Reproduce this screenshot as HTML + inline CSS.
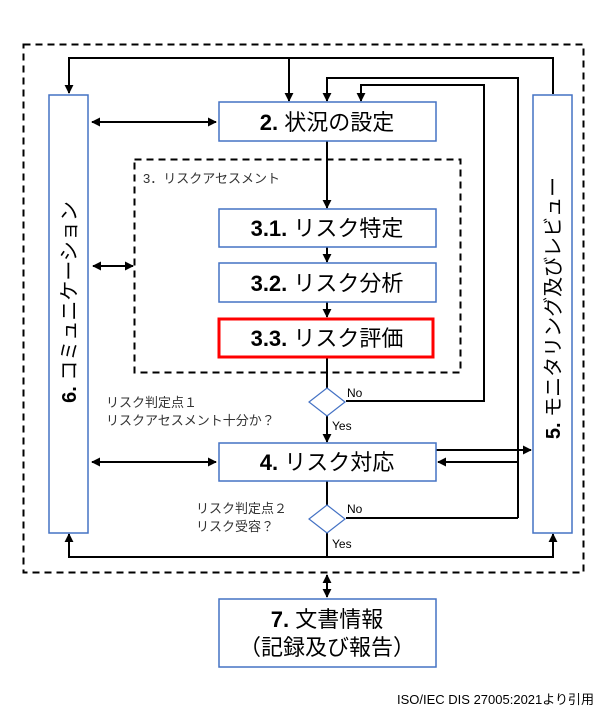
<!DOCTYPE html>
<html><head><meta charset="utf-8"><style>
html,body{margin:0;padding:0;background:#fff;}
svg{display:block;font-family:"Liberation Sans","Noto Sans CJK JP",sans-serif;}
</style></head><body>
<svg width="605" height="720" viewBox="0 0 605 720" xmlns="http://www.w3.org/2000/svg">
<defs>
<marker id="a" viewBox="0 0 10 10" refX="9" refY="5" markerWidth="4.5" markerHeight="4.5" orient="auto-start-reverse"><path d="M0,0 L10,5 L0,10 z" fill="#000"/></marker>
</defs>
<rect x="0" y="0" width="605" height="720" fill="#fff"/>
<rect x="23.5" y="44.5" width="560" height="528" fill="none" stroke="#000" stroke-width="2" stroke-dasharray="7,5"/>
<rect x="134.5" y="159.5" width="326" height="213" fill="none" stroke="#000" stroke-width="2" stroke-dasharray="7,5"/>
<text x="143" y="183" font-size="13" fill="#333">3．リスクアセスメント</text>

<g stroke="#000" stroke-width="2" fill="none">
<polyline points="553,94 553,58 69,58 69,93" marker-end="url(#a)"/>
<line x1="289" y1="58" x2="289" y2="101" marker-end="url(#a)"/>
<polyline points="518,518 518,78 327,78 327,101" marker-end="url(#a)"/>
<polyline points="346,401 484,401 484,85 361,85 361,101" marker-end="url(#a)"/>
<line x1="92" y1="122" x2="216" y2="122" marker-start="url(#a)" marker-end="url(#a)"/>
<line x1="93" y1="266" x2="133" y2="266" marker-start="url(#a)" marker-end="url(#a)"/>
<line x1="327" y1="141" x2="327" y2="208" marker-end="url(#a)"/>
<line x1="327" y1="247" x2="327" y2="262" marker-end="url(#a)"/>
<line x1="327" y1="302" x2="327" y2="317" marker-end="url(#a)"/>
<line x1="327" y1="358" x2="327" y2="388"/>
<line x1="327" y1="416" x2="327" y2="442" marker-end="url(#a)"/>
<line x1="92" y1="462" x2="216" y2="462" marker-start="url(#a)" marker-end="url(#a)"/>
<line x1="436" y1="450" x2="531" y2="450" marker-end="url(#a)"/>
<line x1="518" y1="462" x2="438" y2="462" marker-end="url(#a)"/>
<line x1="327" y1="481" x2="327" y2="505"/>
<line x1="346" y1="518" x2="518" y2="518"/>
<line x1="327" y1="533" x2="327" y2="557"/>
<polyline points="69,534 69,557 553,557 553,534" marker-start="url(#a)" marker-end="url(#a)"/>
<line x1="327" y1="575" x2="327" y2="597" marker-start="url(#a)" marker-end="url(#a)"/>
</g>

<rect x="49" y="95" width="39" height="438" fill="#fff" stroke="#4472c4" stroke-width="1.5"/>
<rect x="533" y="95" width="39" height="438" fill="#fff" stroke="#4472c4" stroke-width="1.5"/>
<text transform="translate(76,302) rotate(-90)" text-anchor="middle" font-size="20"><tspan font-weight="bold">6.</tspan> コミュニケーション</text>
<text transform="translate(560,308) rotate(-90)" text-anchor="middle" font-size="20"><tspan font-weight="bold">5.</tspan> モニタリング及びレビュー</text>

<g fill="#fff" stroke="#4472c4" stroke-width="1.5">
<rect x="219" y="102" width="217" height="39"/>
<rect x="219" y="209" width="217" height="38"/>
<rect x="219" y="263" width="217" height="39"/>
<rect x="219" y="443" width="217" height="38"/>
<rect x="219" y="599" width="217" height="68"/>
</g>
<rect x="219" y="319" width="214" height="38" fill="#fff" stroke="#f00" stroke-width="3"/>
<g font-size="22" text-anchor="middle">
<text x="327" y="130"><tspan font-weight="bold">2.</tspan> 状況の設定</text>
<text x="327" y="236"><tspan font-weight="bold">3.1.</tspan> リスク特定</text>
<text x="327" y="291"><tspan font-weight="bold">3.2.</tspan> リスク分析</text>
<text x="327" y="346"><tspan font-weight="bold">3.3.</tspan> リスク評価</text>
<text x="327" y="470"><tspan font-weight="bold">4.</tspan> リスク対応</text>
<text x="327" y="627"><tspan font-weight="bold">7.</tspan> 文書情報</text>
<text x="327" y="655">（記録及び報告）</text>
</g>

<polygon points="327,388 345,402 327,416 309,402" fill="#fff" stroke="#4472c4" stroke-width="1.2"/>
<polygon points="327,505 345,519 327,533 309,519" fill="#fff" stroke="#4472c4" stroke-width="1.2"/>
<g font-size="12">
<text x="347" y="397">No</text>
<text x="332" y="430">Yes</text>
<text x="347" y="513">No</text>
<text x="332" y="548">Yes</text>
</g>
<g font-size="13" fill="#333">
<text x="106" y="407">リスク判定点１</text>
<text x="106" y="425">リスクアセスメント十分か？</text>
<text x="196" y="513">リスク判定点２</text>
<text x="196" y="531">リスク受容？</text>
</g>
<text x="594" y="704" font-size="13" text-anchor="end">ISO/IEC DIS 27005:2021より引用</text>
</svg>
</body></html>
